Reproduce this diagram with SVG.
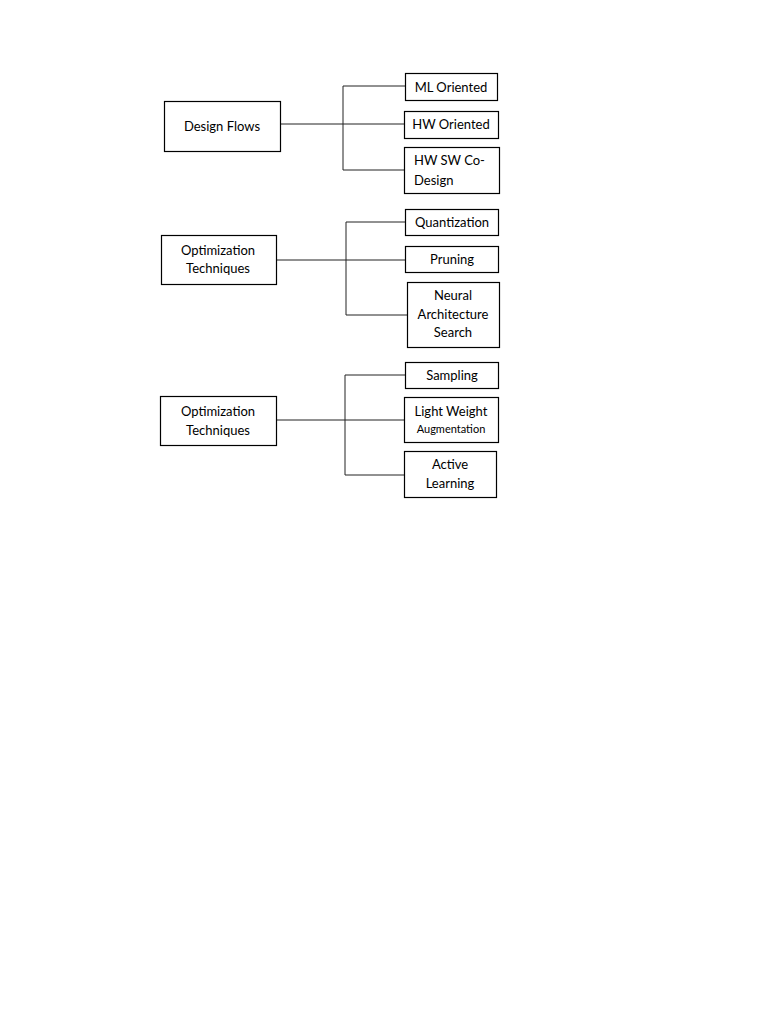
<svg xmlns="http://www.w3.org/2000/svg" width="768" height="1024" viewBox="0 0 768 1024">
<style>
.box{fill:#fff;stroke:#000;stroke-width:1.2}
.t{font-family:Lato,"Open Sans","Liberation Sans",sans-serif;font-size:13px;fill:#000;text-anchor:middle}
.s{font-size:11px}
.l{text-anchor:start}
.c{fill:none;stroke:#222;stroke-width:1}
</style>
<rect width="768" height="1024" fill="#fff"/>
<g id="connectors">
<path class="c" d="M280 124H404M343 86V170M343 86H405M343 170H404"/>
<path class="c" d="M276 260H405M346 222V315M346 222H405M346 315H407"/>
<path class="c" d="M276 420H404M345 375V475M345 375H405M345 475H404"/>
</g>
<g id="design-flows"><rect class="box" x="164.5" y="101.5" width="116" height="50"/><text class="t" x="222" y="131">Design Flows</text></g>
<g id="ml-oriented"><rect class="box" x="405.5" y="73.5" width="92" height="27"/><text class="t" x="451" y="92">ML Oriented</text></g>
<g id="hw-oriented"><rect class="box" x="404.5" y="111.5" width="94" height="27"/><text class="t" x="451" y="129">HW Oriented</text></g>
<g id="hw-sw-codesign"><rect class="box" x="404.5" y="147.5" width="95" height="46"/><text class="t l" x="414" y="165">HW SW Co-</text><text class="t l" x="414" y="185">Design</text></g>
<g id="opt-tech-1"><rect class="box" x="161.5" y="235.5" width="115" height="49"/><text class="t" x="218" y="255">Optimization</text><text class="t" x="218" y="273">Techniques</text></g>
<g id="quantization"><rect class="box" x="405.5" y="209.5" width="93" height="26"/><text class="t" x="452" y="227">Quantization</text></g>
<g id="pruning"><rect class="box" x="405.5" y="246.5" width="93" height="26"/><text class="t" x="452" y="264">Pruning</text></g>
<g id="nas"><rect class="box" x="407.5" y="282.5" width="92" height="65"/><text class="t" x="453" y="300">Neural</text><text class="t" x="453" y="319">Architecture</text><text class="t" x="453" y="337">Search</text></g>
<g id="opt-tech-2"><rect class="box" x="160.5" y="396.5" width="116" height="49"/><text class="t" x="218" y="416">Optimization</text><text class="t" x="218" y="435">Techniques</text></g>
<g id="sampling"><rect class="box" x="405.5" y="362.5" width="93" height="26"/><text class="t" x="452" y="380">Sampling</text></g>
<g id="light-weight"><rect class="box" x="404.5" y="397.5" width="94" height="45"/><text class="t" x="451" y="416">Light Weight</text><text class="t s" x="451" y="433">Augmentation</text></g>
<g id="active-learning"><rect class="box" x="404.5" y="451.5" width="92" height="46"/><text class="t" x="450" y="469">Active</text><text class="t" x="450" y="488">Learning</text></g>
</svg>
